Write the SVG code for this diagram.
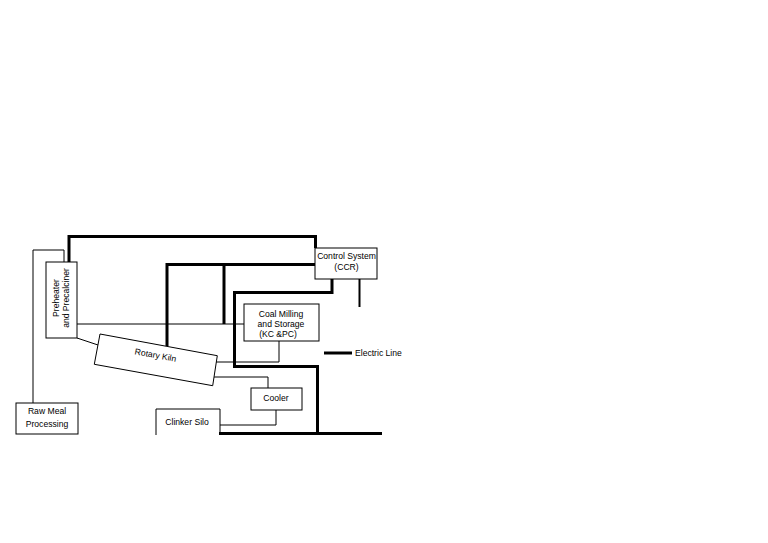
<svg xmlns="http://www.w3.org/2000/svg" width="768" height="543" viewBox="0 0 768 543">
<style>
.box{fill:#fff;stroke:#000;stroke-width:1}
.thin{fill:none;stroke:#000;stroke-width:1}
.thick{fill:none;stroke:#000;stroke-width:3}
text{font-family:"Liberation Sans",Arial,sans-serif;font-size:8.6px;fill:#000}
.c{text-anchor:middle}
</style>
<rect width="768" height="543" fill="#fff"/>
<g id="connectors">
<polyline class="thin" points="64,262 64,250 33,250 33,403"/>
<line class="thin" x1="77" y1="324" x2="244" y2="324"/>
<line class="thin" x1="77" y1="338" x2="98" y2="345"/>
<polyline class="thin" points="279,341 279,362 215,362"/>
<polyline class="thin" points="214,377 268,377 268,388"/>
<polyline class="thin" points="276,410 276,425 220,425"/>
<polyline class="thick" points="69,262 69,236.5 315.5,236.5 315.5,248"/>
<polyline class="thick" points="167,346 167,264.5 315,264.5"/>
<line class="thick" x1="224" y1="264.5" x2="224" y2="324"/>
<polyline class="thick" points="332,279 332,292.5 234.5,292.5 234.5,366.5 317.5,366.5 317.5,433.5"/>
<line class="thick" x1="219" y1="433.5" x2="382" y2="433.5"/>
<line x1="359.5" y1="279" x2="359.5" y2="307" stroke="#000" stroke-width="2"/>
</g>
<g id="preheater">
<rect class="box" x="46" y="262" width="31" height="76"/>
<text class="c" transform="translate(61.5,298) rotate(-90)" x="0" y="-3">Preheater</text>
<text class="c" transform="translate(61.5,298) rotate(-90)" x="0" y="7">and Precalciner</text>
</g>
<g id="control">
<rect class="box" x="315" y="248" width="62" height="31"/>
<text class="c" x="346.5" y="259">Control System</text>
<text class="c" x="346.5" y="269.5">(CCR)</text>
</g>
<g id="coal">
<rect class="box" x="244" y="304" width="75" height="37"/>
<text class="c" x="281" y="316.5">Coal Milling</text>
<text class="c" x="281" y="326.5">and Storage</text>
<text class="c" x="278" y="336.5">(KC &amp;PC)</text>
</g>
<g id="kiln">
<polygon class="box" points="100,334 217.3,355.7 212.7,385.7 94.3,364.3"/>
<text class="c" transform="translate(155,358) rotate(10.5)">Rotary Kiln</text>
</g>
<g id="raw">
<rect class="box" x="16" y="403" width="62" height="31"/>
<text class="c" x="47" y="414">Raw Meal</text>
<text class="c" x="47" y="426.5">Processing</text>
</g>
<g id="cooler">
<rect class="box" x="251" y="388" width="51" height="22"/>
<text class="c" x="276" y="401">Cooler</text>
</g>
<g id="silo">
<polyline class="thin" points="156,435 156,409 220,409 220,435"/>
<text class="c" x="187" y="424.5">Clinker Silo</text>
</g>
<g id="legend">
<line class="thick" x1="324" y1="353" x2="352" y2="353" stroke-width="2"/>
<text x="355" y="356">Electric Line</text>
</g>
</svg>
